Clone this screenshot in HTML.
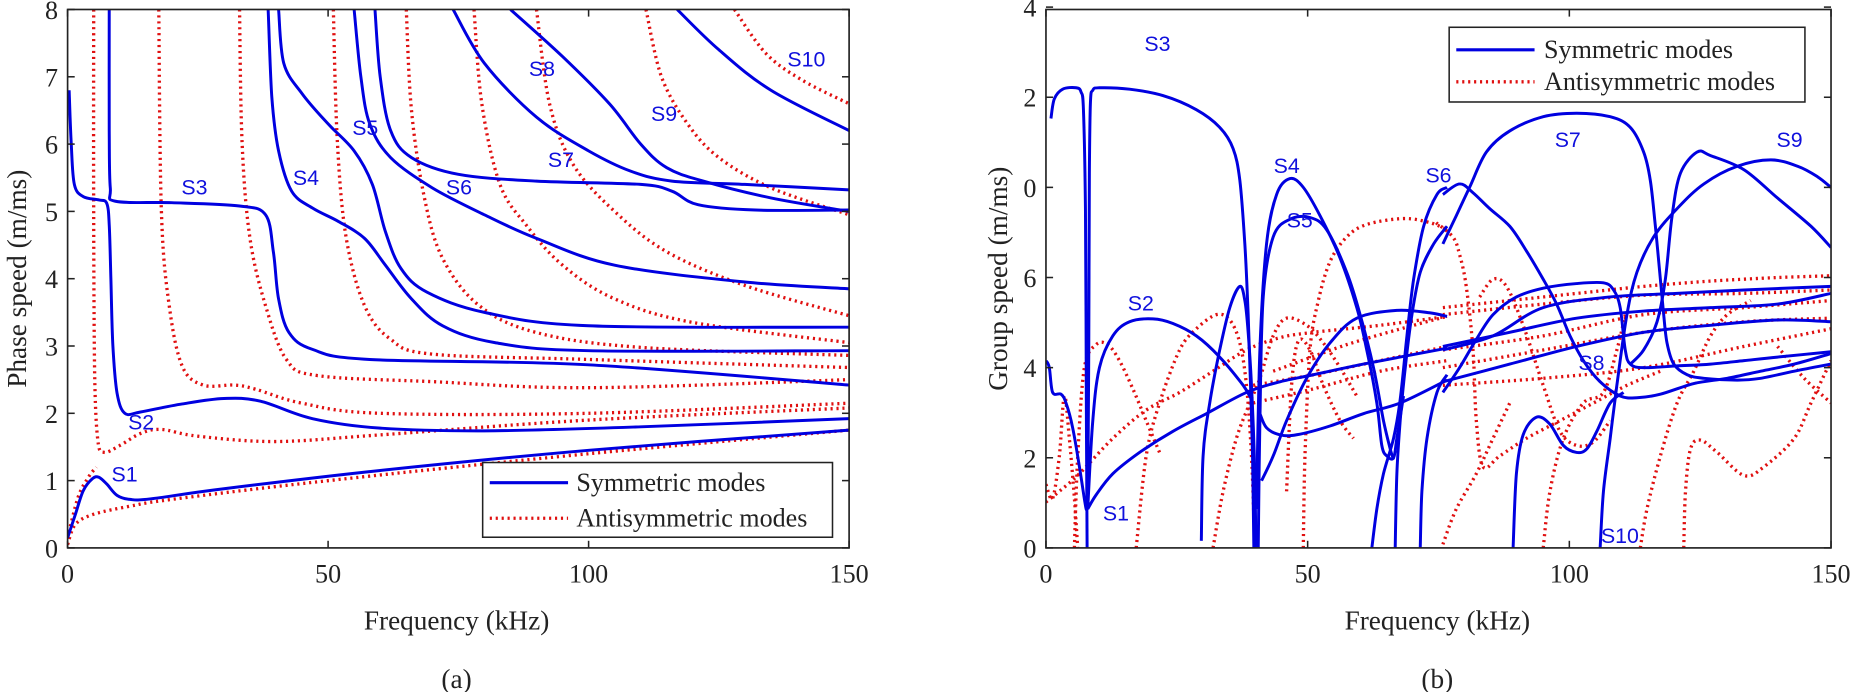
<!DOCTYPE html>
<html><head><meta charset="utf-8"><style>
html,body{margin:0;padding:0;background:#fff;}
svg{display:block;}
.t{font-family:"Liberation Serif",serif;fill:#222;}
.s{font-family:"Liberation Sans",sans-serif;fill:#1010dd;font-size:18px;}
</style></head><body>
<svg id="c" width="1850" height="692" viewBox="0 0 1560 583.5" preserveAspectRatio="none" xmlns="http://www.w3.org/2000/svg">
<rect width="1560" height="583.5" fill="#fff"/>
<g id="L"></g><g id="R"></g>
<g id="ax"></g>
<text class="s" x="94" y="406">S1</text>
<text class="s" x="108" y="362">S2</text>
<text class="s" x="153" y="164">S3</text>
<text class="s" x="247" y="156">S4</text>
<text class="s" x="297" y="114">S5</text>
<text class="s" x="376" y="164">S6</text>
<text class="s" x="462" y="141">S7</text>
<text class="s" x="446" y="64">S8</text>
<text class="s" x="549" y="102">S9</text>
<text class="s" x="664" y="56">S10</text>
<text class="s" x="965" y="43">S3</text>
<text class="s" x="1074" y="146">S4</text>
<text class="s" x="1085" y="192">S5</text>
<text class="s" x="1202" y="154">S6</text>
<text class="s" x="1311" y="124">S7</text>
<text class="s" x="1331" y="312">S8</text>
<text class="s" x="1498" y="124">S9</text>
<text class="s" x="930" y="439">S1</text>
<text class="s" x="951" y="262">S2</text>
<text class="s" x="1350" y="458">S10</text>
<text class="t" x="385" y="531" font-size="23" text-anchor="middle">Frequency (kHz)</text>
<text class="t" x="1212" y="531" font-size="23" text-anchor="middle">Frequency (kHz)</text>
<text class="t" x="385" y="580" font-size="23" text-anchor="middle">(a)</text>
<text class="t" x="1212" y="580" font-size="23" text-anchor="middle">(b)</text>
<text class="t" font-size="23" text-anchor="middle" transform="translate(22,235) rotate(-90)">Phase speed (m/ms)</text>
<text class="t" font-size="23" text-anchor="middle" transform="translate(849,235) rotate(-90)">Group speed (m/ms)</text>
<rect x="407" y="390" width="295" height="63" fill="#fff" stroke="#222" stroke-width="1.3"/>
<line x1="413" y1="407" x2="479" y2="407" stroke="#0000e0" stroke-width="2.6"/>
<line x1="413" y1="437" x2="479" y2="437" stroke="#e01010" stroke-width="2.8" stroke-dasharray="1.8 3.2"/>
<text class="t" x="486" y="414" font-size="22">Symmetric modes</text>
<text class="t" x="486" y="444" font-size="22">Antisymmetric modes</text>
<rect x="1222" y="23" width="300" height="63" fill="#fff" stroke="#222" stroke-width="1.3"/>
<line x1="1228" y1="42" x2="1294" y2="42" stroke="#0000e0" stroke-width="2.6"/>
<line x1="1228" y1="69" x2="1294" y2="69" stroke="#e01010" stroke-width="2.8" stroke-dasharray="1.8 3.2"/>
<text class="t" x="1302" y="49" font-size="22">Symmetric modes</text>
<text class="t" x="1302" y="76" font-size="22">Antisymmetric modes</text>
</svg>
<script>
(function(){
var NS="http://www.w3.org/2000/svg";
function el(p,n,a){var e=document.createElementNS(NS,n);for(var k in a)e.setAttribute(k,a[k]);p.appendChild(e);return e;}
function cr(pts){
  var d="M"+pts[0][0].toFixed(1)+","+pts[0][1].toFixed(1);
  for(var i=0;i<pts.length-1;i++){
    var p0=pts[i-1]||pts[i],p1=pts[i],p2=pts[i+1],p3=pts[i+2]||p2;
    var c1=[p1[0]+(p2[0]-p0[0])/6,p1[1]+(p2[1]-p0[1])/6];
    var c2=[p2[0]-(p3[0]-p1[0])/6,p2[1]-(p3[1]-p1[1])/6];
    d+=" C"+c1[0].toFixed(1)+","+c1[1].toFixed(1)+" "+c2[0].toFixed(1)+","+c2[1].toFixed(1)+" "+p2[0].toFixed(1)+","+p2[1].toFixed(1);
  }
  return d;
}
var X0=57,X1=716,YB=462,YT=8;
var RX0=882,RX1=1544;
function Lm(a){return a.map(function(p){return [X0+p[0]*(X1-X0)/150, YB-p[1]*(YB-YT)/8];});}
function z9(a){return a.map(function(p){var f=p[0]*50/783;return [RX0+f*(RX1-RX0)/150, YB-(1560-p[1])*0.298];});}
function z10(a){return a.map(function(p){var f=100+(p[0]-378)*50/782;return [RX0+f*(RX1-RX0)/150, YB-(1560-p[1])*0.298];});}
var gL=document.getElementById("L"),gR=document.getElementById("R");
var cp1=el(gL,"clipPath",{id:"cl"});el(cp1,"rect",{x:X0,y:YT,width:X1-X0,height:YB-YT});
var cp2=el(gR,"clipPath",{id:"cr"});el(cp2,"rect",{x:RX0,y:YT,width:RX1-RX0,height:YB-YT});
var gl=el(gL,"g",{"clip-path":"url(#cl)"}),gr=el(gR,"g",{"clip-path":"url(#cr)"});
function red(g,pts){el(g,"path",{d:cr(pts),fill:"none",stroke:"#e01010","stroke-width":"2.8","stroke-dasharray":"1.8 3.2","stroke-linecap":"butt"});}
function blue(g,pts){el(g,"path",{d:cr(pts),fill:"none",stroke:"#0000e0","stroke-width":"2.5","stroke-linejoin":"round"});}
[
[[0,0.05],[1.5,0.35],[5,0.5],[12,0.62],[20,0.72],[50,1.0],[100,1.4],[150,1.75]],
[[0,0.15],[2,0.75],[4,1.05],[5.5,1.2]],
[[5,8],[5,5],[5.2,2.6],[5.8,1.6],[7,1.42],[10,1.52],[14,1.7],[18,1.76],[25,1.66],[40,1.58],[60,1.68],[100,1.9],[150,2.08]],
[[17.5,8],[18,5],[19.5,3.6],[22,2.7],[26,2.42],[32,2.42],[36,2.36],[45,2.15],[60,2.0],[100,2.0],[150,2.15]],
[[33,8],[33.5,6],[35,4.6],[38,3.6],[42,2.8],[48,2.56],[70,2.47],[100,2.38],[150,2.5]],
[[51,8],[51.8,6],[53.5,4.6],[57,3.6],[62,3.1],[70,2.88],[100,2.8],[150,2.68]],
[[65,8],[66,6.5],[68.5,5.2],[72,4.3],[79,3.6],[90,3.2],[110,2.98],[150,2.86]],
[[78,8],[79.5,6.6],[83,5.4],[88,4.8],[95,4.2],[105,3.7],[120,3.35],[150,3.05]],
[[90,8],[92.5,6.6],[97,5.7],[105,5.0],[115,4.4],[130,3.9],[150,3.45]],
[[111,8],[114,7],[119,6.3],[125,5.8],[135,5.35],[150,4.95]],
[[128,8],[134,7.35],[141,6.95],[150,6.6]]
].forEach(function(a){red(gl,Lm(a));});
[
[[0,0.15],[1.5,0.5],[3,0.85],[4.8,1.03],[6,1.05],[7.5,0.95],[9.5,0.78],[12,0.72],[16,0.73],[30,0.88],[60,1.15],[100,1.45],[150,1.75]],
[[0.3,6.8],[0.7,6.0],[1.3,5.4],[3,5.22],[6,5.17],[7.5,5.12],[8,4.8],[8.3,4.0],[8.7,3.0],[9.5,2.3],[11,2.0],[14,2.02],[22,2.14],[30,2.22],[37,2.18],[47,1.92],[60,1.78],[80,1.74],[110,1.8],[150,1.92]],
[[8,8],[8,6.2],[8.2,5.35],[9.2,5.15],[20,5.13],[33,5.08],[38,4.95],[39.5,4.4],[40.5,3.7],[42.5,3.2],[47,2.95],[58,2.8],[100,2.72],[150,2.42]],
[[38.5,8],[39.2,6.7],[40.5,5.9],[43,5.3],[47,5.05],[52,4.85],[57,4.6],[61,4.2],[66,3.7],[72,3.3],[82,3.05],[100,2.93],[150,2.93]],
[[40.5,8],[41.5,7.2],[45,6.75],[50,6.3],[55,5.9],[58.5,5.4],[61,4.7],[64,4.15],[69,3.8],[80,3.5],[100,3.3],[150,3.28]],
[[55,8],[56.3,7],[58,6.3],[62,5.8],[70,5.35],[80,4.95],[90,4.6],[105,4.2],[130,3.95],[150,3.85]],
[[59,8],[60,7],[62,6.2],[66,5.8],[75,5.55],[90,5.45],[110,5.4],[116,5.3],[121,5.1],[132,5.02],[150,5.02]],
[[74,8],[80,7.2],[90,6.4],[100,5.9],[108,5.6],[116,5.45],[130,5.4],[150,5.32]],
[[85,8],[95,7.3],[104,6.6],[110,6.0],[115,5.65],[122,5.45],[135,5.2],[150,5.0]],
[[117,8],[125,7.4],[135,6.8],[150,6.2]]
].forEach(function(a){blue(gl,Lm(a));});
[
[[0,1380],[20,1420],[40,1300],[55,1130],[70,1250],[85,1420],[95,1560]],
[[0,1430],[40,1400],[100,1350],[200,1250],[300,1170],[400,1120],[500,1060],[600,1000],[700,965],[800,950],[1000,930],[1200,905]],
[[85,1560],[95,1300],[115,1050],[150,985],[185,985],[220,1030],[260,1110],[300,1200],[340,1290]],
[[270,1560],[300,1300],[340,1150],[400,1000],[450,940],[510,900],[550,915],[580,980],[600,1100],[615,1300],[625,1560]],
[[500,1560],[530,1400],[570,1250],[610,1150],[640,1080],[680,960],[720,910],[780,930],[830,980],[880,1050],[930,1130]],
[[770,1560],[775,1300],[790,1000],[815,860],[850,750],[900,680],[960,645],[1070,628],[1150,640],[1200,660]],
[[720,1400],[735,1100],[755,975],[790,1000],[830,1100],[880,1200],[920,1250]],
[[620,1100],[800,1070],[1000,1030],[1200,990]],
[[620,1150],[800,1110],[1000,1060],[1200,1030]],
[[680,1060],[900,985],[1100,930],[1200,905]]
].forEach(function(a){red(gr,z9(a));});
[
[[-20,640],[30,680],[50,730],[70,820],[90,1000],[100,1200],[120,1330],[170,1300],[250,1250],[350,1200],[450,1150],[550,1100],[650,1060]],
[[0,880],[200,860],[400,840],[600,820],[800,805],[1000,795],[1160,790]],
[[0,900],[300,870],[600,845],[900,840],[1160,830]],
[[0,1000],[300,960],[600,900],[900,880],[1160,860]],
[[0,1050],[300,1000],[600,950],[900,920],[1160,910]],
[[0,1100],[300,1080],[600,1050],[900,990],[1160,940]],
[[110,850],[150,800],[190,820],[240,930],[300,1100],[350,1230],[400,1270],[450,1260],[500,1200]],
[[300,1560],[320,1400],[360,1250],[420,1150],[480,1120],[520,1000],[545,900]],
[[590,1560],[610,1450],[650,1300],[700,1150],[750,1060],[800,960],[850,900],[920,860]],
[[720,1560],[725,1400],[740,1280],[770,1255],[820,1290],[900,1355],[960,1330],[1050,1250],[1100,1150],[1160,1030]],
[[1000,990],[1080,1080],[1160,1150]],
[[0,1550],[40,1450],[100,1350],[150,1250],[200,1150]]
].forEach(function(a){red(gr,z10(a));});
[
[[15,345],[25,290],[50,262],[90,258],[105,270],[112,320],[118,600],[121,1200],[123,1560]],
[[125,1450],[128,1000],[130,500],[133,300],[140,265],[160,258],[250,262],[350,280],[450,320],[520,370],[560,430],[580,520],[595,700],[605,900],[612,1100],[618,1300],[622,1560]],
[[125,1450],[150,1410],[200,1350],[280,1290],[380,1230],[480,1180],[600,1120],[700,1090],[800,1070],[950,1040],[1200,995]],
[[0,1030],[10,1050],[20,1120],[45,1125],[60,1150],[80,1220],[100,1330],[118,1440],[122,1450]],
[[125,1450],[140,1200],[160,1050],[200,960],[250,920],[320,912],[380,925],[450,960],[520,1020],[590,1100],[615,1140]],
[[465,1540],[470,1300],[490,1150],[520,1000],[550,880],[580,820],[595,860],[605,950],[615,1100],[625,1350],[628,1560]],
[[630,1450],[640,1000],[660,700],[690,560],[730,515],[770,540],[820,620],[880,740],[930,880],[960,1000],[990,1150],[1005,1270],[1020,1300],[1040,1305],[1050,1250],[1070,1130]],
[[635,1560],[640,1200],[650,850],[680,680],[730,630],[790,625],[840,660],[900,780],[940,900],[980,1050],[1010,1200],[1030,1280],[1040,1310]],
[[645,1370],[680,1300],[720,1200],[780,1080],[850,980],[930,910],[1050,888],[1150,895],[1200,905]],
[[640,1180],[660,1220],[700,1240],[750,1240],[850,1215],[950,1180],[1060,1150],[1200,1085]],
[[975,1560],[990,1450],[1010,1350],[1040,1250],[1060,1140],[1080,960],[1100,800],[1130,650],[1170,560],[1200,540]],
[[1045,1560],[1050,1350],[1060,1200],[1075,1050],[1095,900],[1120,780],[1160,700],[1200,650]],
[[1120,1560],[1125,1400],[1140,1250],[1170,1120],[1200,1070]]
].forEach(function(a){blue(gr,z9(a));});
[
[[0,560],[50,530],[90,555],[140,600],[200,650],[250,720],[300,800],[340,870],[380,960],[420,1030],[470,1090],[530,1130],[580,1135],[650,1125],[750,1095],[850,1080],[950,1060],[1050,1040],[1160,1010]],
[[0,700],[40,620],[80,540],[130,440],[200,380],[300,340],[400,330],[500,340],[560,370],[600,440],[620,520],[635,650],[650,800],[660,900],[670,980],[690,1040],[730,1070],[780,1080],[880,1085],[950,1080],[1050,1060],[1160,1040]],
[[470,1560],[480,1400],[500,1250],[520,1100],[550,900],[580,780],[630,680],[700,600],[780,530],[880,480],[980,462],[1060,480],[1120,510],[1160,540]],
[[560,1040],[600,1000],[640,920],[665,800],[685,620],[710,500],[760,440],[800,450],[900,490],[1000,570],[1100,650],[1160,710]],
[[0,1120],[50,1050],[100,970],[150,900],[220,850],[300,825],[400,812],[480,810],[510,830],[530,880],[545,1000],[560,1040],[600,1050],[700,1045],[800,1040],[900,1030],[1000,1020],[1160,1005]],
[[210,1560],[220,1350],[240,1240],[280,1190],[320,1210],[360,1270],[400,1290],[430,1280],[460,1230],[500,1150],[540,1120]],
[[0,990],[200,950],[400,910],[600,890],[800,880],[1000,870],[1160,840]],
[[0,1090],[200,1040],[400,990],[600,950],[800,930],[1000,915],[1160,920]],
[[0,1000],[150,960],[300,880],[500,850],[700,840],[900,830],[1160,820]]
].forEach(function(a){blue(gr,z10(a));});
var ax=document.getElementById("ax");
function box(x0,x1,xt,yt,ylab,xlab){
  el(ax,"rect",{x:x0,y:YT,width:x1-x0,height:YB-YT,fill:"none",stroke:"#222","stroke-width":"1.4"});
  xt.forEach(function(v,i){var x=x0+v*(x1-x0)/150;
    el(ax,"line",{x1:x,y1:YB,x2:x,y2:YB-6,stroke:"#222","stroke-width":"1.3"});
    el(ax,"line",{x1:x,y1:YT,x2:x,y2:YT+6,stroke:"#222","stroke-width":"1.3"});
    var t=el(ax,"text",{x:x,y:YB+29,"class":"t","font-size":"22","text-anchor":"middle"});t.textContent=xlab[i];});
  yt.forEach(function(y,i){
    el(ax,"line",{x1:x0,y1:y,x2:x0+6,y2:y,stroke:"#222","stroke-width":"1.3"});
    el(ax,"line",{x1:x1,y1:y,x2:x1-6,y2:y,stroke:"#222","stroke-width":"1.3"});
    var t=el(ax,"text",{x:x0-8,y:y+8,"class":"t","font-size":"22","text-anchor":"end"});t.textContent=ylab[i];});
}
var ly=[],ll=[];for(var i=0;i<=8;i++){ly.push(YB-i*(YB-YT)/8);ll.push(String(i));}
box(X0,X1,[0,50,100,150],ly,ll,["0","50","100","150"]);
var ry=[],rl=["0","2","4","6","0","2","4"];for(var i=0;i<=6;i++){ry.push(YB-i*76);}
box(RX0,RX1,[0,50,100,150],ry,rl,["0","50","100","150"]);
})();
</script>
</body></html>
